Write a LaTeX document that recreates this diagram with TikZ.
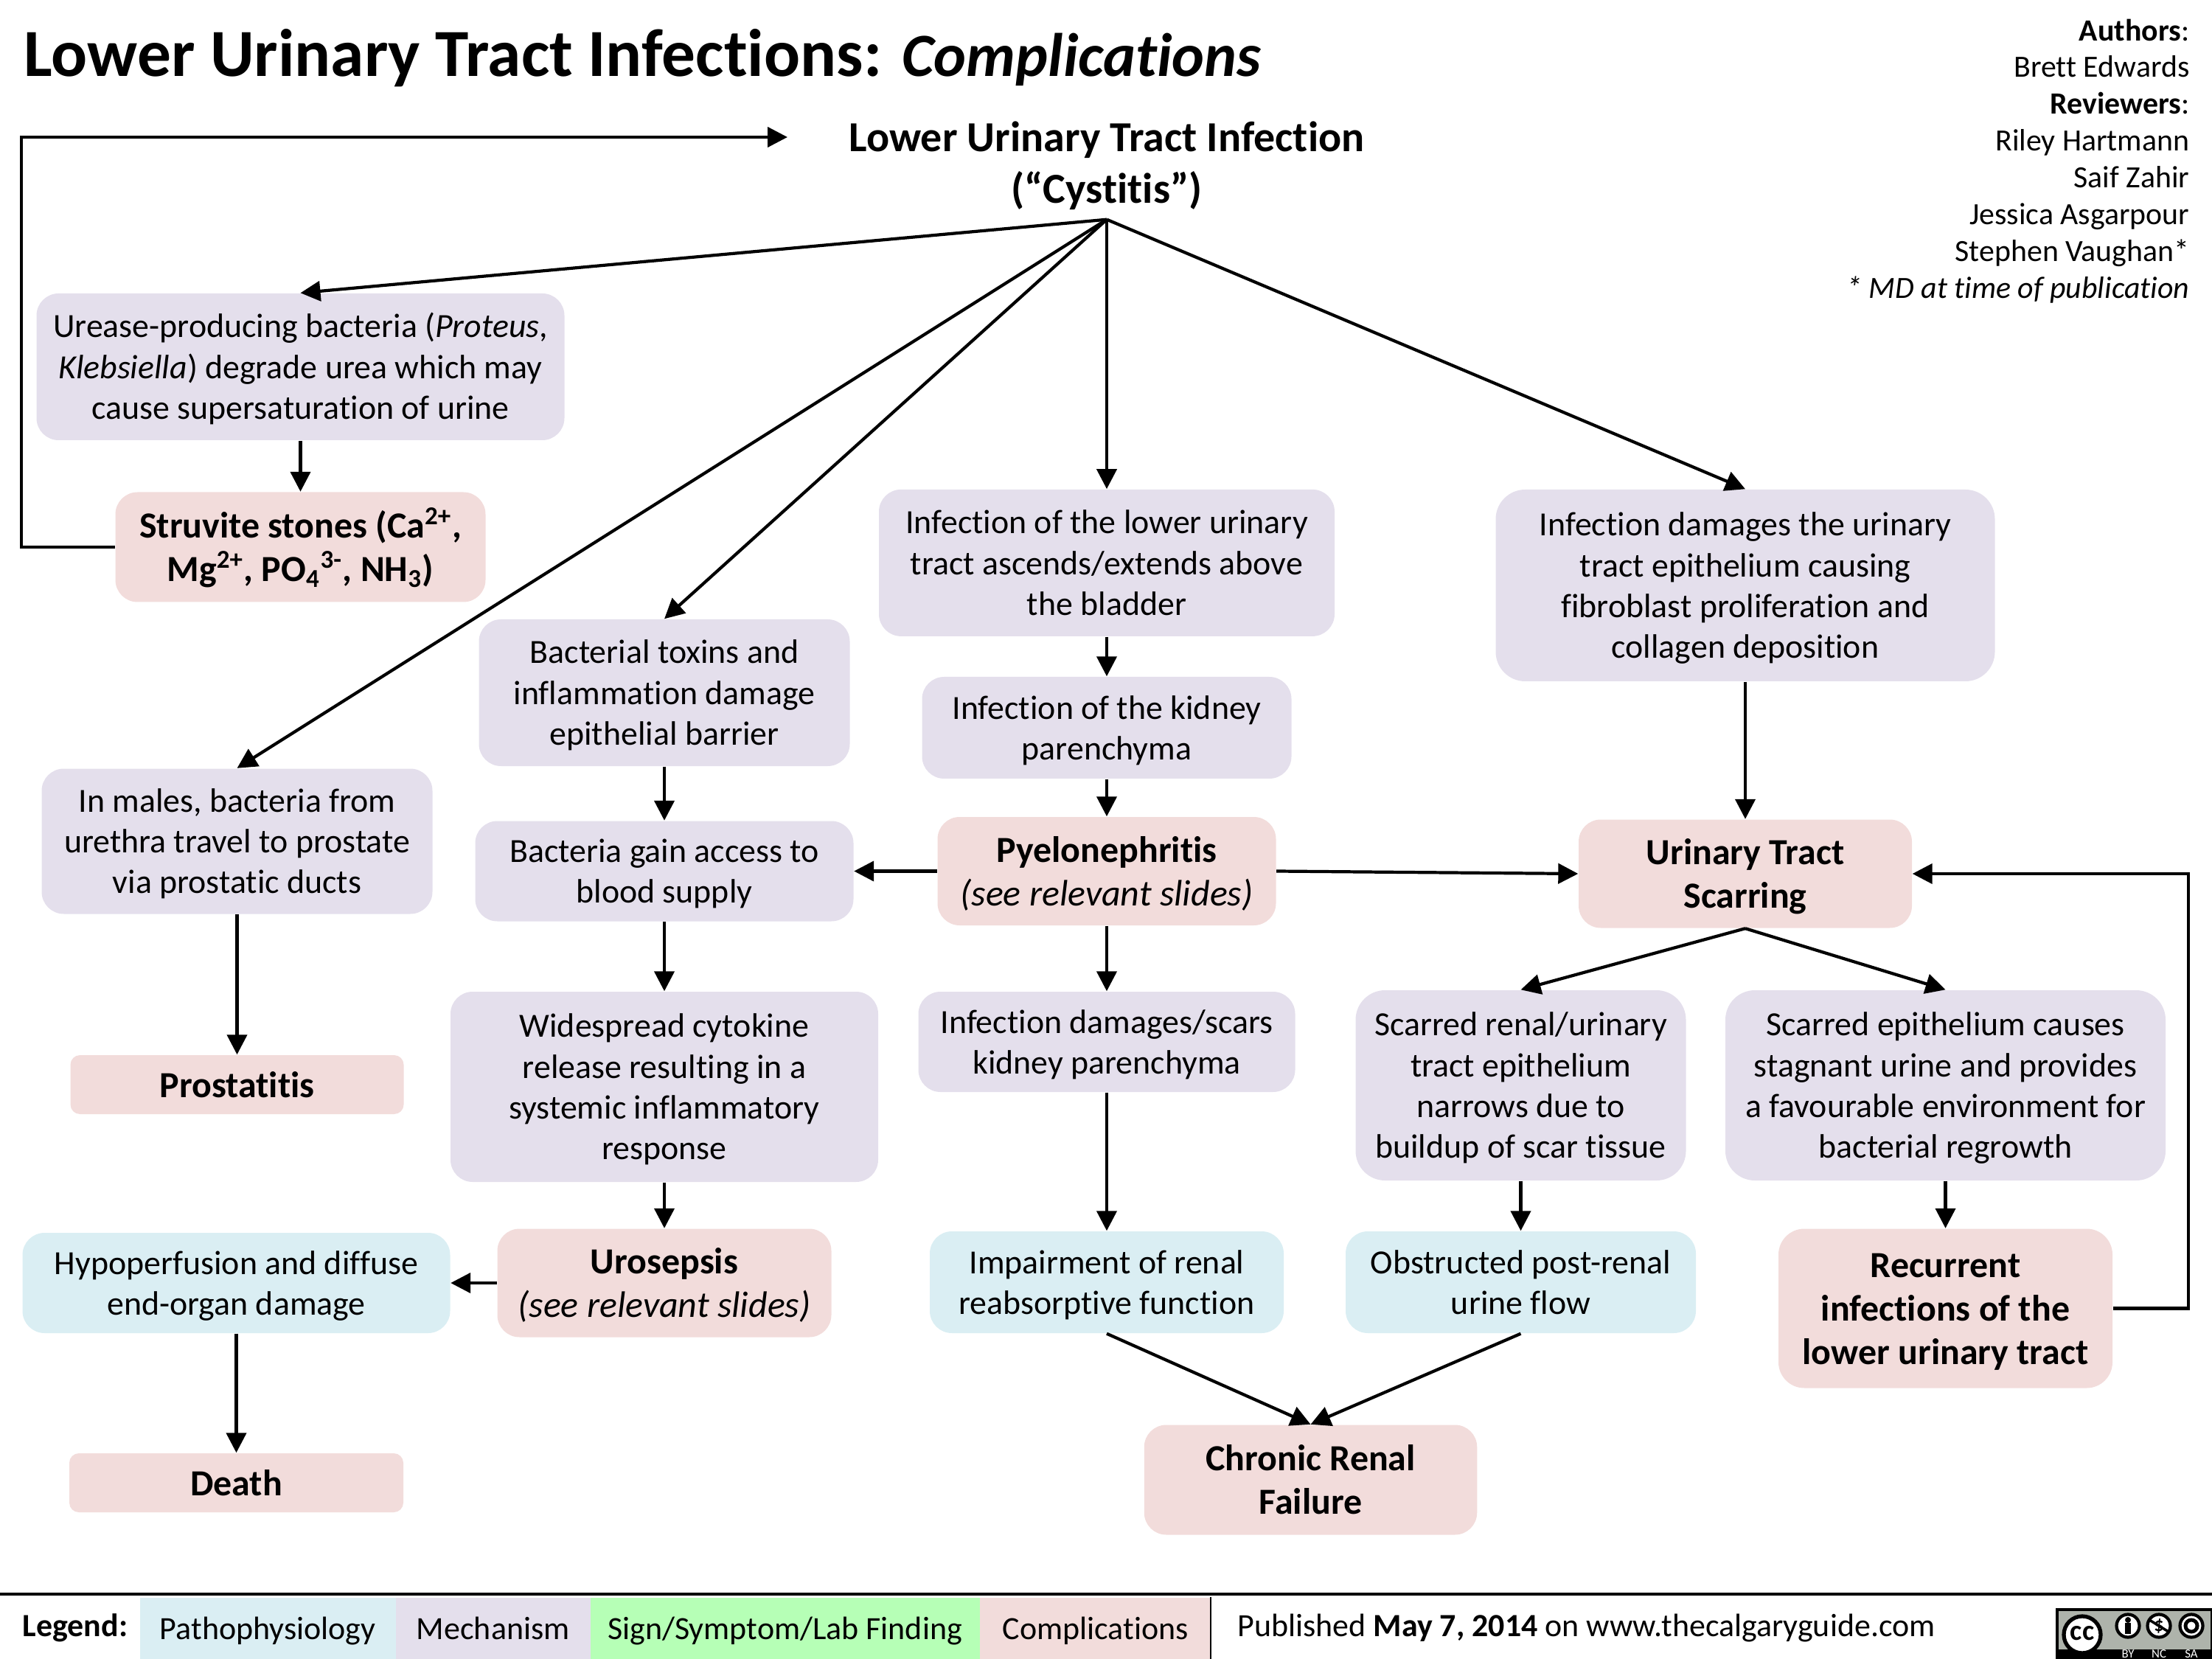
\documentclass[tikz,border=0pt]{standalone}
\usepackage{fontspec}
\setmainfont{Carlito}[Ligatures=NoCommon]
\usetikzlibrary{arrows.meta}

\definecolor{mechcol}{HTML}{E4DFEC}
\definecolor{compcol}{HTML}{F2DCDB}
\definecolor{pathcol}{HTML}{DAEEF3}
\definecolor{signcol}{HTML}{B6FFB6}
\definecolor{badgecol}{HTML}{AEB3AB}

\tikzset{
  stack/.style={execute at begin node={\rule{0pt}{\dimexpr #1\baselineskip+.952em\relax}},
    execute at end node={\rule[-.269em]{0pt}{.01pt}}},
  box/.style={inner sep=0pt, align=center, rounded corners=.3cm,
    font=\fontsize{13.05}{15.7}\selectfont},
  mech/.style={box, fill=mechcol},
  path box/.style={box, fill=pathcol},
  comp/.style={box, fill=compcol, font=\fontsize{14.2}{16.8}\selectfont},
  legendcell/.style={inner sep=0pt, anchor=north west, minimum height=.84cm, stack=0,
    font=\fontsize{12.5}{15}\selectfont},
  arrow/.style={line width=1.2pt, -{Triangle[length=.27cm,width=.27cm]}},
  rule/.style={line width=1.1pt}
}

\begin{document}
\begin{tikzpicture}[y=-1cm]
  \useasboundingbox (0,0) rectangle (30,22.5);

  % Heading and credits
  \node (heading) [anchor=west, inner sep=0pt, font=\fontsize{26}{30}\selectfont\bfseries]
    at (.32,.79) {Lower Urinary Tract Infections: {\fontsize{23.7}{30}\selectfont\itshape Complications}};
  \node (credits) [anchor=north east, inner sep=0pt, align=right, font=\fontsize{11.9}{14.2}\selectfont]
    at (29.70,.25) {\textbf{Authors}:\\Brett Edwards\\\textbf{Reviewers}:\\Riley Hartmann\\Saif Zahir\\Jessica Asgarpour\\Stephen Vaughan*\\\textit{* MD at time of publication}};

  % Root of the chart
  \node (lut) [inner sep=0pt, align=center, minimum height=1.44cm, font=\fontsize{16.5}{20}\selectfont\bfseries]
    at (15.01,2.25) {Lower Urinary Tract Infection\\(“Cystitis”)};
  \coordinate (lutin) at (10.68,1.86);
  \coordinate (bendleft) at (.29,1.86);
  \coordinate (bendright) at (29.68,11.85);

  % Left column
  \node (urease) [mech, stack=2, minimum width=7.16cm, minimum height=1.99cm] at (4.075,4.975)
    {Urease-producing bacteria (\textit{Proteus},\\\textit{Klebsiella}) degrade urea which may\\cause supersaturation of urine};
  \node (struvite) [comp, stack=1, minimum width=5.02cm, minimum height=1.49cm] at (4.075,7.42)
    {\textbf{Struvite stones (Ca\textsuperscript{2+},}\\\textbf{Mg\textsuperscript{2+}, PO\textsubscript{4}\textsuperscript{3-}, NH\textsubscript{3})}};
  \node (males) [mech, stack=2, minimum width=5.3cm, minimum height=1.97cm] at (3.215,11.41)
    {In males, bacteria from\\urethra travel to prostate\\via prostatic ducts};
  \node (prostatitis) [comp, stack=0, rounded corners=.13cm, minimum width=4.52cm, minimum height=.8cm] at (3.215,14.71)
    {\textbf{Prostatitis}};
  \node (hypoperf) [path box, stack=1, minimum width=5.8cm, minimum height=1.36cm] at (3.205,17.4)
    {Hypoperfusion and diffuse\\end-organ damage};
  \node (death) [comp, stack=0, rounded corners=.13cm, minimum width=4.53cm, minimum height=.8cm] at (3.205,20.11)
    {\textbf{Death}};

  % Second column
  \node (toxins) [mech, stack=2, minimum width=5.03cm, minimum height=1.99cm] at (9.01,9.395)
    {Bacterial toxins and\\inflammation damage\\epithelial barrier};
  \node (access) [mech, stack=1, minimum width=5.13cm, minimum height=1.36cm] at (9.01,11.815)
    {Bacteria gain access to\\blood supply};
  \node (cytokine) [mech, stack=3, minimum width=5.8cm, minimum height=2.58cm] at (9.01,14.74)
    {Widespread cytokine\\release resulting in a\\systemic inflammatory\\response};
  \node (urosepsis) [comp, stack=1, minimum width=4.53cm, minimum height=1.47cm] at (9.01,17.4)
    {\textbf{Urosepsis}\\\textit{(see relevant slides)}};

  % Middle column
  \node (ascends) [mech, stack=2, minimum width=6.18cm, minimum height=1.99cm] at (15.01,7.634)
    {Infection of the lower urinary\\tract ascends/extends above\\the bladder};
  \node (kidney) [mech, stack=1, minimum width=5.01cm, minimum height=1.38cm] at (15.01,9.87)
    {Infection of the kidney\\parenchyma};
  \node (pyelo) [comp, stack=1, minimum width=4.59cm, minimum height=1.47cm] at (15.01,11.815)
    {\textbf{Pyelonephritis}\\\textit{(see relevant slides)}};
  \node (scars) [mech, stack=1, minimum width=5.11cm, minimum height=1.36cm] at (15.01,14.13)
    {Infection damages/scars\\kidney parenchyma};
  \node (impair) [path box, stack=1, minimum width=4.8cm, minimum height=1.38cm] at (15.01,17.39)
    {Impairment of renal\\reabsorptive function};
  \node (crf) [comp, stack=1, minimum width=4.515cm, minimum height=1.49cm] at (17.775,20.07)
    {\textbf{Chronic Renal}\\\textbf{Failure}};

  % Right side
  \node (fibro) [mech, stack=3, rounded corners=.4cm, minimum width=6.77cm, minimum height=2.6cm] at (23.67,7.94)
    {Infection damages the urinary\\tract epithelium causing\\fibroblast proliferation and\\collagen deposition};
  \node (uts) [comp, stack=1, minimum width=4.52cm, minimum height=1.47cm] at (23.67,11.85)
    {\textbf{Urinary Tract}\\\textbf{Scarring}};
  \node (narrows) [mech, stack=3, rounded corners=.4cm, minimum width=4.48cm, minimum height=2.58cm] at (20.625,14.72)
    {Scarred renal/urinary\\tract epithelium\\narrows due to\\buildup of scar tissue};
  \node (obstruct) [path box, stack=1, minimum width=4.75cm, minimum height=1.38cm] at (20.625,17.39)
    {Obstructed post-renal\\urine flow};
  \node (regrowth) [mech, stack=3, rounded corners=.4cm, minimum width=5.97cm, minimum height=2.58cm] at (26.385,14.72)
    {Scarred epithelium causes\\stagnant urine and provides\\a favourable environment for\\bacterial regrowth};
  \node (recurrent) [comp, stack=2, rounded corners=.35cm, minimum width=4.53cm, minimum height=2.16cm] at (26.385,17.745)
    {\textbf{Recurrent}\\\textbf{infections of the}\\\textbf{lower urinary tract}};

  % Fan out of the root
  \foreach \t in {urease, males, toxins, ascends, fibro}
    \draw [arrow] (lut.south) -- (\t.north);

  % Plain downward steps
  \foreach \a/\b in {urease/struvite, males/prostatitis, hypoperf/death, toxins/access,
      access/cytokine, cytokine/urosepsis, ascends/kidney, kidney/pyelo, pyelo/scars,
      scars/impair, fibro/uts, uts/narrows, uts/regrowth, narrows/obstruct,
      regrowth/recurrent, impair/crf, obstruct/crf}
    \draw [arrow] (\a.south) -- (\b.north);

  % Sideways steps and the two feedback loops
  \draw [arrow] (pyelo.west) -- (access.east);
  \draw [arrow] (pyelo.east) -- (uts.west);
  \draw [arrow] (urosepsis.west) -- (hypoperf.east);
  \draw [arrow] (struvite.west) -| (bendleft) -- (lutin);
  \draw [arrow] (recurrent.east) -| (bendright) -- (uts.east);

  % Legend strip
  \draw [rule] (0,21.62) -- (30,21.62);
  \node (legend) [anchor=west, inner sep=0pt, font=\fontsize{12.5}{15}\selectfont\bfseries] at (.3,22.08) {Legend:};
  \node (legpath) [legendcell, fill=pathcol, minimum width=3.47cm] at (1.89,21.66) {Pathophysiology};
  \node (legmech) [legendcell, fill=mechcol, minimum width=2.64cm] at (5.36,21.66) {Mechanism};
  \node (legsign) [legendcell, fill=signcol, minimum width=5.28cm] at (8.00,21.66) {Sign/Symptom/Lab Finding};
  \node (legcomp) [legendcell, fill=compcol, minimum width=3.14cm] at (13.28,21.66) {Complications};
  \draw [line width=.8pt] (16.42,21.66) -- (16.42,22.5);
  \node (published) [anchor=west, inner sep=0pt, font=\fontsize{12.5}{15}\selectfont] at (16.78,22.08)
    {Published \textbf{May 7, 2014} on www.thecalgaryguide.com};

  % Licence badge
  \draw [fill=badgecol, line width=1pt] (27.9,21.83) rectangle (30,22.5);
  \fill [black] (27.9,22.37) rectangle (30,22.5);
  \draw [fill=white, line width=1.5pt] (28.24,22.17) circle (.25);
  \node (badgecc) [inner sep=0pt, font=\fontsize{11}{12}\selectfont\bfseries] at (28.24,22.15) {cc};
  \foreach \x in {28.86, 29.28, 29.72}
    \draw [fill=white, line width=1.2pt] (\x,22.05) circle (.155);
  % person
  \fill (28.86,21.97) circle (.04);
  \fill (28.82,22.01) rectangle (28.90,22.16);
  % no dollar
  \node (badgedollar) [inner sep=0pt, font=\fontsize{7.5}{8}\selectfont\bfseries] at (29.28,22.05) {\$};
  \draw [line width=1pt] (29.15,21.97) -- (29.41,22.13);
  % share alike
  \draw [line width=1.4pt] (29.72,22.05) circle (.08);
  % strip labels
  \foreach \x/\s in {28.86/BY, 29.28/NC, 29.72/SA}
    \node (badge\s) [inner sep=0pt, text=white, font=\fontsize{4.8}{5}\selectfont] at (\x,22.435) {\s};

\end{tikzpicture}
\end{document}
